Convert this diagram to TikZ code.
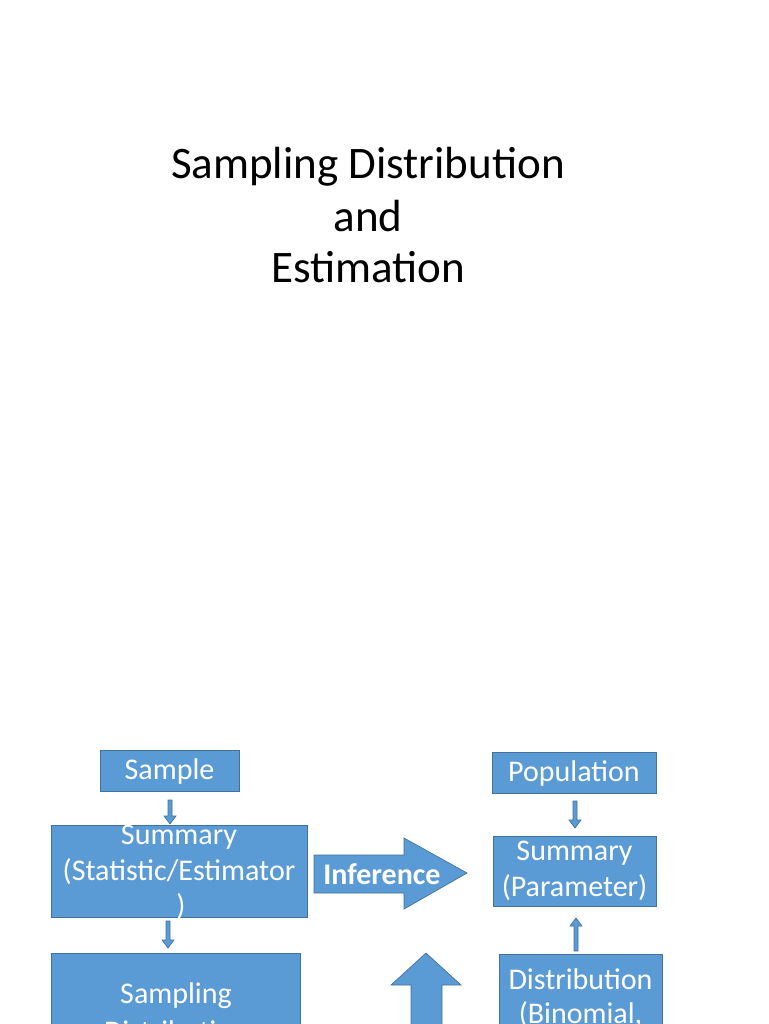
\documentclass[tikz,border=0pt]{standalone}
\usepackage{fontspec}
\setmainfont{Carlito}
\definecolor{fillb}{HTML}{5B9BD5}
\definecolor{edgeb}{HTML}{41719C}
\begin{document}
\begin{tikzpicture}[x=0.75pt,y=-0.75pt,
  box/.style={fill=fillb,draw=edgeb,line width=0.6pt},
  txt/.style={text=white,font=\fontsize{22.5}{26}\selectfont,inner sep=0pt,anchor=center},
  barrow/.style={fill=fillb,draw=edgeb,line width=0.5pt}]
\useasboundingbox (0,0) rectangle (768,1024);
\clip (0,0) rectangle (768,1024);
\fill[white] (0,0) rectangle (768,1024);
% title
\node[font=\fontsize{33.8}{37}\selectfont,inner sep=0pt] (t1) at (368,167) {Sampling Distribution};
\node[font=\fontsize{33.8}{37}\selectfont,inner sep=0pt] (t2) at (368,216) {and};
\node[font=\fontsize{33.8}{37}\selectfont,inner sep=0pt] (t3) at (368,267) {Estimation};
% boxes
\path[box] (100,750) rectangle (239,791);
\node[txt] (sample) at (169.5,771) {Sample};
\path[box] (51,825) rectangle (307,917);
\node[txt] (s1) at (179,837) {Summary};
\node[txt] (s2) at (179,872) {(Statistic/Estimator};
\node[txt] (s3) at (181,907) {)};
\path[box] (51,953) rectangle (300,1040);
\node[txt] (sd1) at (176,996) {Sampling};
\node[txt] (sd2) at (176,1031) {Distribution};
\path[box] (492,752) rectangle (656,793);
\node[txt] (pop) at (574,773) {Population};
\path[box] (493,836) rectangle (656,906);
\node[txt] (r1) at (574.5,853) {Summary};
\node[txt] (r2) at (574.5,888) {(Parameter)};
\path[box] (499,954) rectangle (662,1040);
\node[txt] (pd1) at (580.5,979) {Distribution};
\node[txt] (pd2) at (580.5,1015) {(Binomial,};
% small arrows
\path[barrow] (168,800) -- (172,800) -- (172,816) -- (176,816) -- (170,824) -- (164,816) -- (168,816) -- cycle;
\path[barrow] (166,921) -- (170,921) -- (170,940) -- (174,940) -- (168,948) -- (162,940) -- (166,940) -- cycle;
\path[barrow] (573,801) -- (577,801) -- (577,820) -- (581,820) -- (575,828) -- (569,820) -- (573,820) -- cycle;
\path[barrow] (574,951) -- (578,951) -- (578,926) -- (582,926) -- (576,918) -- (570,926) -- (574,926) -- cycle;
% inference arrow
\path[barrow] (314,855) -- (404,855) -- (404,838) -- (467,873) -- (404,909) -- (404,893) -- (314,893) -- cycle;
\node[txt,font=\bfseries\fontsize{22.5}{26}\selectfont] (inf) at (382,874) {Inference};
% big up arrow
\path[barrow] (411,1040) -- (411,985) -- (391,985) -- (426,953) -- (461,985) -- (442,985) -- (442,1040) -- cycle;
\end{tikzpicture}
\end{document}
